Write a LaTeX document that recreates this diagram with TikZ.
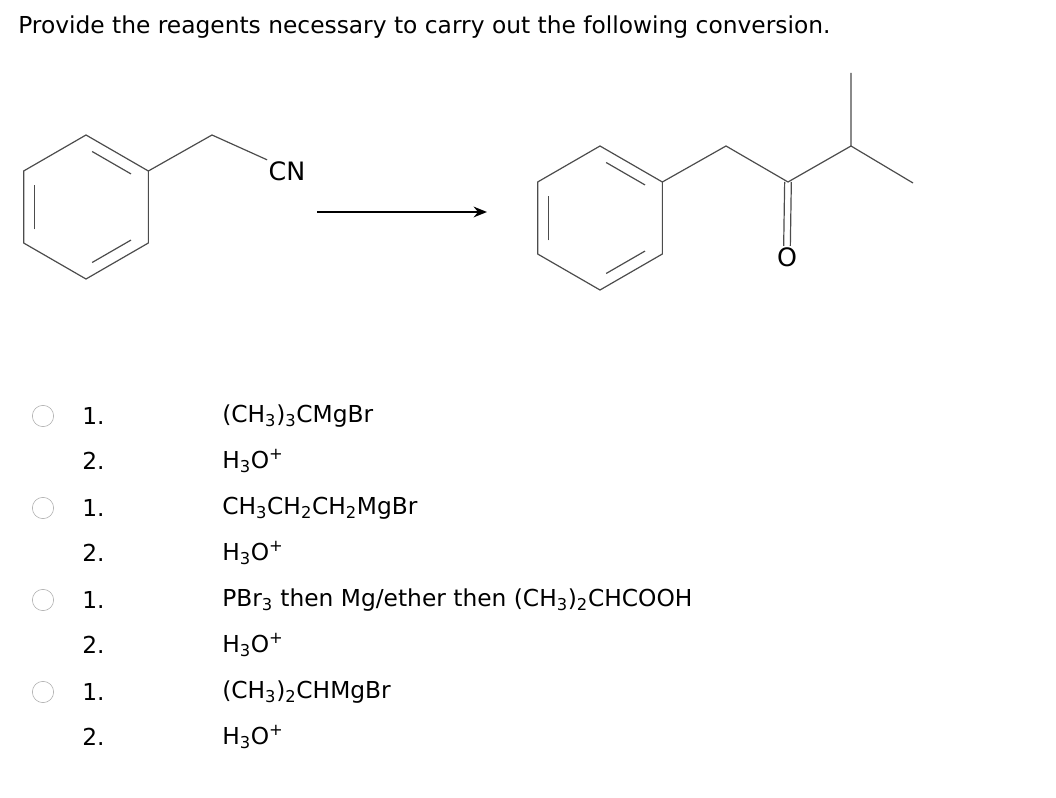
\documentclass[tikz,border=0pt]{standalone}
\usepackage{fontspec}
\setmainfont{DejaVu Sans}
\usetikzlibrary{arrows.meta,calc}
\tikzstyle{bond} = [draw=black!70, line width=0.9pt]
\tikzstyle{label} = [anchor=west, font=\fontsize{17.5}{19}\selectfont, inner sep=0pt]
\tikzstyle{option} = [draw=black!35, fill=white, circle, minimum size=16pt, inner sep=0pt]
\begin{document}
\begin{tikzpicture}[x=0.75pt, y=-0.75pt]
  \useasboundingbox (0,0) rectangle (1056,798);
  % Title
  \node [label] (title) at (18,27) {Provide the reagents necessary to carry out the following conversion.};

  % Starting material
  \foreach \i/\dx/\dy in {1/0/-72,2/62.35/-36,3/62.35/36,4/0/72,5/-62.35/36,6/-62.35/-36} {
    \coordinate (L\i) at ($(86,207)+(\dx,\dy)$);
    \coordinate (l\i) at ($(86,207)+0.82*(\dx,\dy)$);
  }
  \path [bond] (L1) -- (L2) -- (L3) -- (L4) -- (L5) -- (L6) -- cycle;
  \path [bond] ($(l1)!0.12!(l2)$) -- ($(l1)!0.88!(l2)$);
  \path [bond] ($(l3)!0.12!(l4)$) -- ($(l3)!0.88!(l4)$);
  \path [bond] ($(l5)!0.12!(l6)$) -- ($(l5)!0.88!(l6)$);
  \coordinate (Lch2) at (212,135);
  \node [font=\fontsize{19}{20}\selectfont, inner sep=1pt] (cn) at (287,171) {CN};
  \path [bond] (L2) -- (Lch2) -- (cn.north west);

  % Arrow
  \coordinate (a1) at (317,212);
  \coordinate (a2) at (487,212);
  \draw [line width=1.6pt, -{Stealth[length=10pt,width=8pt]}] (a1) -- (a2);

  % Product
  \foreach \i/\dx/\dy in {1/0/-72,2/62.35/-36,3/62.35/36,4/0/72,5/-62.35/36,6/-62.35/-36} {
    \coordinate (R\i) at ($(600,218)+(\dx,\dy)$);
    \coordinate (r\i) at ($(600,218)+0.82*(\dx,\dy)$);
  }
  \path [bond] (R1) -- (R2) -- (R3) -- (R4) -- (R5) -- (R6) -- cycle;
  \path [bond] ($(r1)!0.12!(r2)$) -- ($(r1)!0.88!(r2)$);
  \path [bond] ($(r3)!0.12!(r4)$) -- ($(r3)!0.88!(r4)$);
  \path [bond] ($(r5)!0.12!(r6)$) -- ($(r5)!0.88!(r6)$);
  \coordinate (Rch2) at (726,146);
  \coordinate (co) at (788,182);
  \coordinate (ch) at (851,146);
  \coordinate (me1) at (851,73);
  \coordinate (me2) at (913,183);
  \node [font=\fontsize{19}{20}\selectfont, inner sep=1pt] (ox) at (787,257) {O};
  \path [bond] (R2) -- (Rch2) -- (co) -- (ch) -- (me1);
  \path [bond] (ch) -- (me2);
  \path [bond] ([xshift=-2.5]co) -- ([xshift=-2.5]ox.north);
  \path [bond] ([xshift=2.5]co) -- ([xshift=2.5]ox.north);

  % Answer options
  \foreach \y/\r in {416/{(CH\textsubscript{3})\textsubscript{3}CMgBr},
                     508/{CH\textsubscript{3}CH\textsubscript{2}CH\textsubscript{2}MgBr},
                     600/{PBr\textsubscript{3} then Mg/ether then (CH\textsubscript{3})\textsubscript{2}CHCOOH},
                     692/{(CH\textsubscript{3})\textsubscript{2}CHMgBr}} {
    \node [option] (opt\y) at (43,\y) {};
    \node [label] (one\y) at (82,\y) {1.};
    \node [label] (two\y) at (82,\y+45) {2.};
    \node [label] (rga\y) at (222,\y) {\r};
    \node [label] (rgb\y) at (222,\y+45) {H\textsubscript{3}O\textsuperscript{+}};
  }
\end{tikzpicture}
\end{document}
